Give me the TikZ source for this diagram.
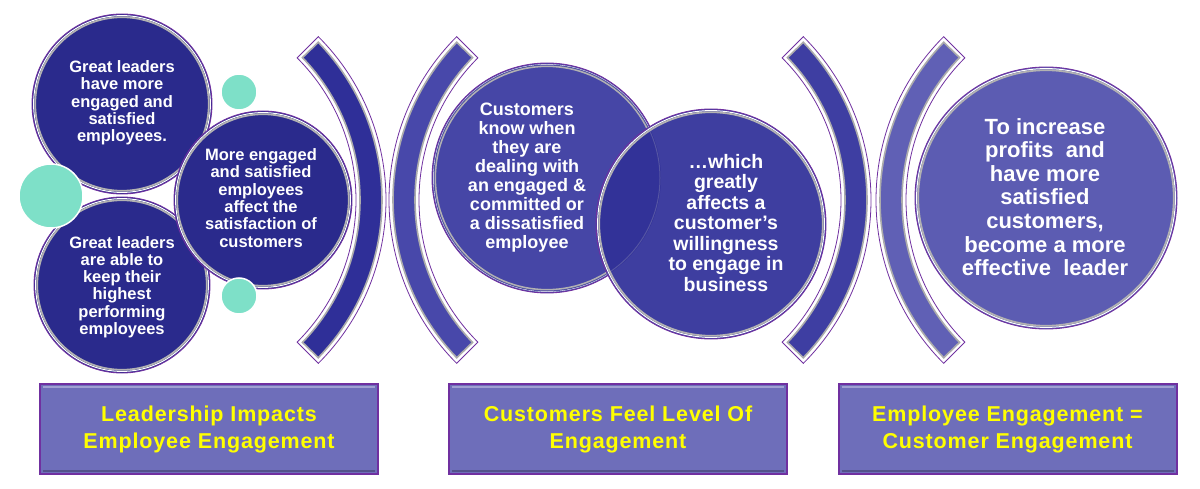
\documentclass[tikz,border=0pt]{standalone}
\usepackage{fontspec}
\setmainfont{Liberation Sans}
\definecolor{navy}{RGB}{42,42,140}
\definecolor{dblue}{RGB}{70,70,166}
\definecolor{eblue}{RGB}{62,62,160}
\definecolor{ovl}{RGB}{50,50,152}
\definecolor{lblue}{RGB}{92,92,178}
\definecolor{tealc}{RGB}{126,224,200}
\definecolor{purp}{RGB}{112,48,160}
\definecolor{boxc}{RGB}{110,110,186}
\definecolor{bka}{RGB}{47,47,152}
\definecolor{bkb}{RGB}{72,72,170}
\definecolor{bkc}{RGB}{62,62,162}
\definecolor{bkd}{RGB}{96,96,181}
\definecolor{yel}{RGB}{255,255,0}
\newcommand\brk[3]{%
  \fill[white,draw=purp,line width=0.8] ([shift={(#1,200)}]#2-45:231) arc[start angle=#2-45,end angle=#2+45,radius=231] -- ([shift={(#1,200)}]#2+45:201) arc[start angle=#2+45,end angle=#2-45,radius=201] -- cycle;
  \fill[#3,draw=gray!65,line width=1.6] ([shift={(#1,200)}]#2-44:227) arc[start angle=#2-44,end angle=#2+44,radius=227] -- ([shift={(#1,200)}]#2+44:205) arc[start angle=#2+44,end angle=#2-44,radius=205] -- cycle;
}
\newcommand\ringc[2]{%
  \draw[white,line width=1] (#1.center) circle (#2-1.6);
  \draw[gray!60,line width=1.8] (#1.center) circle (#2-3.2);
}
\tikzset{
  bigc/.style={circle,inner sep=0,minimum size=#1,draw=purp,line width=0.9},
  tdot/.style={circle,inner sep=0,minimum size=#1,fill=tealc,draw=white,line width=1.5},
  ctext/.style={text=white,align=center,font=\bfseries\fontsize{16.5}{17.3}\selectfont},
  box/.style={rectangle,minimum width=338,minimum height=90,fill=boxc,draw=purp,line width=2,
     text=yel,align=center,font=\bfseries\fontsize{21.5}{27}\selectfont\addfontfeature{LetterSpace=4}},
}
\begin{document}
\begin{tikzpicture}[x=1pt,y=-1pt]
\useasboundingbox (0,0) rectangle (1200,489);
% left group
\node[bigc=180,fill=navy] (ca) at (122,104) {};
\ringc{ca}{90}
\node[bigc=176,fill=navy] (cb) at (122,285) {};
\ringc{cb}{88}
\node[bigc=178,fill=navy] (cc) at (263,200) {};
\ringc{cc}{89}
\node[tdot=64] (t1) at (51,196) {};
\node[tdot=36] (t2) at (239,92) {};
\node[tdot=36] (t3) at (239,296) {};
\node[ctext] (ta) at (122,103) {Great leaders\\have more\\engaged and\\satisfied\\employees.};
\node[ctext] (tb) at (122,287) {Great leaders\\are able to\\keep their\\highest\\performing\\employees};
\node[ctext] (tc) at (261,198) {More engaged\\and satisfied\\employees\\affect the\\satisfaction of\\customers};
% brackets
\brk{155}{0}{bka}
\brk{620}{180}{bkb}
\brk{640}{0}{bkc}
\brk{1107}{180}{bkd}
% middle group
\node[bigc=230,fill=dblue] (cd) at (547,178) {};
\ringc{cd}{115}
\node[bigc=230,fill=eblue] (ce) at (711,224) {};
\begin{scope}
  \clip (cd.center) circle (114);
  \fill[ovl] (ce.center) circle (114);
  \draw[navy!80,line width=1] (cd.center) circle (113);
\end{scope}
\ringc{ce}{115}
\node[ctext,font=\bfseries\fontsize{18}{19}\selectfont] (td) at (527,178) {Customers\\know when\\they are\\dealing with\\an engaged \&\\committed or\\a dissatisfied\\employee};
\node[ctext,font=\bfseries\fontsize{19.5}{20.5}\selectfont] (te) at (726,223) {\ldots which\\greatly\\affects a\\customer’s\\willingness\\to engage in\\business};
% right
\node[bigc=262,fill=lblue] (cf) at (1046,198) {};
\ringc{cf}{131}
\node[ctext,font=\bfseries\fontsize{22}{23.6}\selectfont] (tf) at (1045,197) {To increase\\profits\ \ and\\have more\\satisfied\\customers,\\become a more\\effective\ \ leader};
% boxes
\node[box] (b1) at (209,429) {Leadership Impacts\\Employee Engagement};
\node[box] (b2) at (618,429) {Customers Feel Level Of\\Engagement};
\node[box] (b3) at (1007.5,429) {Employee Engagement =\\Customer Engagement};
\foreach \b in {b1,b2,b3}{
  \draw[white,opacity=0.35,line width=1.5] ([shift={(4,4)}]\b.north west) -- ([shift={(-4,4)}]\b.north east);
  \draw[black,opacity=0.25,line width=1.5] ([shift={(4,-4)}]\b.south west) -- ([shift={(-4,-4)}]\b.south east);
}
\end{tikzpicture}
\end{document}
